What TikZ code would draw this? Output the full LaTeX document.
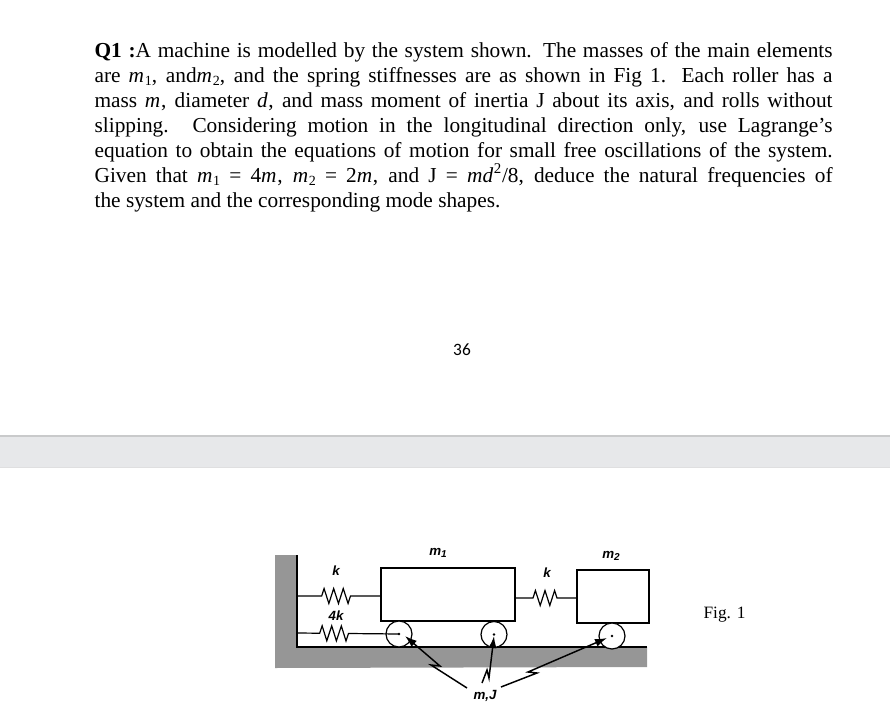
\documentclass[tikz,border=0pt]{standalone}
\usepackage{fontspec}
\setmainfont{Liberation Serif}
\newfontfamily\labelfont{Liberation Sans}
\newfontfamily\pagefont{Carlito}
\usetikzlibrary{arrows.meta,decorations.pathmorphing}
\definecolor{bandgray}{HTML}{E7E8EA}
\definecolor{bandedge}{HTML}{C9CACB}
\definecolor{groundgray}{HTML}{969696}
\newcommand{\Var}[1]{\textit{#1\kern0.5pt}}
\newcommand{\Low}[1]{\raisebox{-2.5pt}{\fontsize{10.5}{12}\selectfont #1}}
\newcommand{\TagLow}[1]{\raisebox{-1.5pt}{\fontsize{7.5}{8}\selectfont #1}}
\tikzset{
	Mass/.style={draw,shape=rectangle,inner sep=0pt},
	Roller/.style={draw,shape=circle,minimum size=19.5pt,inner sep=0pt,fill=white},
	Spring/.style 2 args={decorate,decoration={zigzag,amplitude=5.6pt,segment length=7.2pt,pre length=#1,post length=#2}},
	Leader/.style={line width=1.1pt,-{Latex[length=9pt,width=6pt]}},
	Tag/.style={font=\labelfont\bfseries\itshape\fontsize{10}{12}\selectfont,inner sep=0pt},
}
\begin{document}
\begin{tikzpicture}[x=0.75pt,y=-0.75pt,line width=0.9pt]
			\useasboundingbox (0,0) rectangle (890,707);
			% question text
			\node [anchor=north west,inner sep=0pt,text width=553.5pt,align=justify,font=\fontsize{16}{18.75}\selectfont] (Question) at (94,41.5)
				{\textbf{Q1 :}A machine is modelled by the system shown. The masses of the main elements\linebreak
				are \Var{m}\Low{1}, and\Var{m}\Low{2}, and the spring stiffnesses are as shown in Fig 1. Each roller has a\linebreak
				mass \Var{m}, diameter \Var{d}, and mass moment of inertia J about its axis, and rolls without\linebreak
				slipping. Considering motion in the longitudinal direction only, use Lagrange's\linebreak
				equation to obtain the equations of motion for small free oscillations of the system.\linebreak
				Given that \Var{m}\Low{1} = 4\Var{m}, \Var{m}\Low{2} = 2\Var{m}, and J = \Var{md}\textsuperscript{2}/8, deduce the natural frequencies of\linebreak
				the system and the corresponding mode shapes.};
			\node [font=\pagefont\fontsize{13}{15}\selectfont] (Page) at (462,350) {36};
			% grey band
			\fill[bandgray] (0,435) rectangle (890,467);
			\fill[bandedge] (0,435) rectangle (890,437);
			\fill[bandedge!60] (0,466.5) rectangle (890,468);
			% ground
			\fill[groundgray] (275,555) -- (297,555) -- (297,647) -- (647,647) -- (647,667) -- (275,668) -- cycle;
			\draw (297,555) -- (297,647) -- (647,647);
			\coordinate (WallA) at (297,596);
			\coordinate (WallB) at (297,633);
			% masses
			\node [Mass,minimum width=100.5pt,minimum height=39.75pt] (MassA) at (448,594.5) {};
			\node [Mass,minimum width=54pt,minimum height=39.75pt] (MassB) at (613,596.5) {};
			\node [Tag] (LabelA) at (438,553) {m\TagLow{1}};
			\node [Tag] (LabelB) at (611,556) {m\TagLow{2}};
			% rollers
			\foreach \Name/\X/\Y in {RollerA/399/634,RollerB/494/634.5,RollerC/612/636} {
				\node [Roller] (\Name) at (\X,\Y) {};
				\fill (\Name.center) circle (1.1pt);
			}
			% springs
			\coordinate (EndK) at (515,598);
			\coordinate (EndM) at (577,598);
			\draw[Spring={18.5pt}{21pt}] (WallA) -- (WallA -| MassA.west);
			\draw[Spring={17pt}{36pt}] (WallB) -- (RollerA.center);
			\draw[Spring={13.5pt}{12pt}] (EndK) -- (EndM);
			\node [Tag] (SpringA) at (336,571) {k};
			\node [Tag] (SpringB) at (336,616) {4k};
			\node [Tag] (SpringC) at (547,573) {k};
			% leaders
			\node [Tag] (Rollers) at (485,696) {m,J};
			\coordinate (TipA) at (405,636);
			\coordinate (TipB) at (494,636);
			\coordinate (TipC) at (607,638);
			\draw[Leader] (467,688) -- (431,665) -- (440,666) -- (TipA);
			\draw[Leader] (482,683) -- (487,670) -- (489,678) -- (TipB);
			\draw[Leader] (501,687) -- (537,673) -- (528,672) -- (TipC);
			\node [font=\fontsize{13}{15}\selectfont] (Figure) at (724.5,614.5) {Fig. 1};
		\end{tikzpicture}
\end{document}
